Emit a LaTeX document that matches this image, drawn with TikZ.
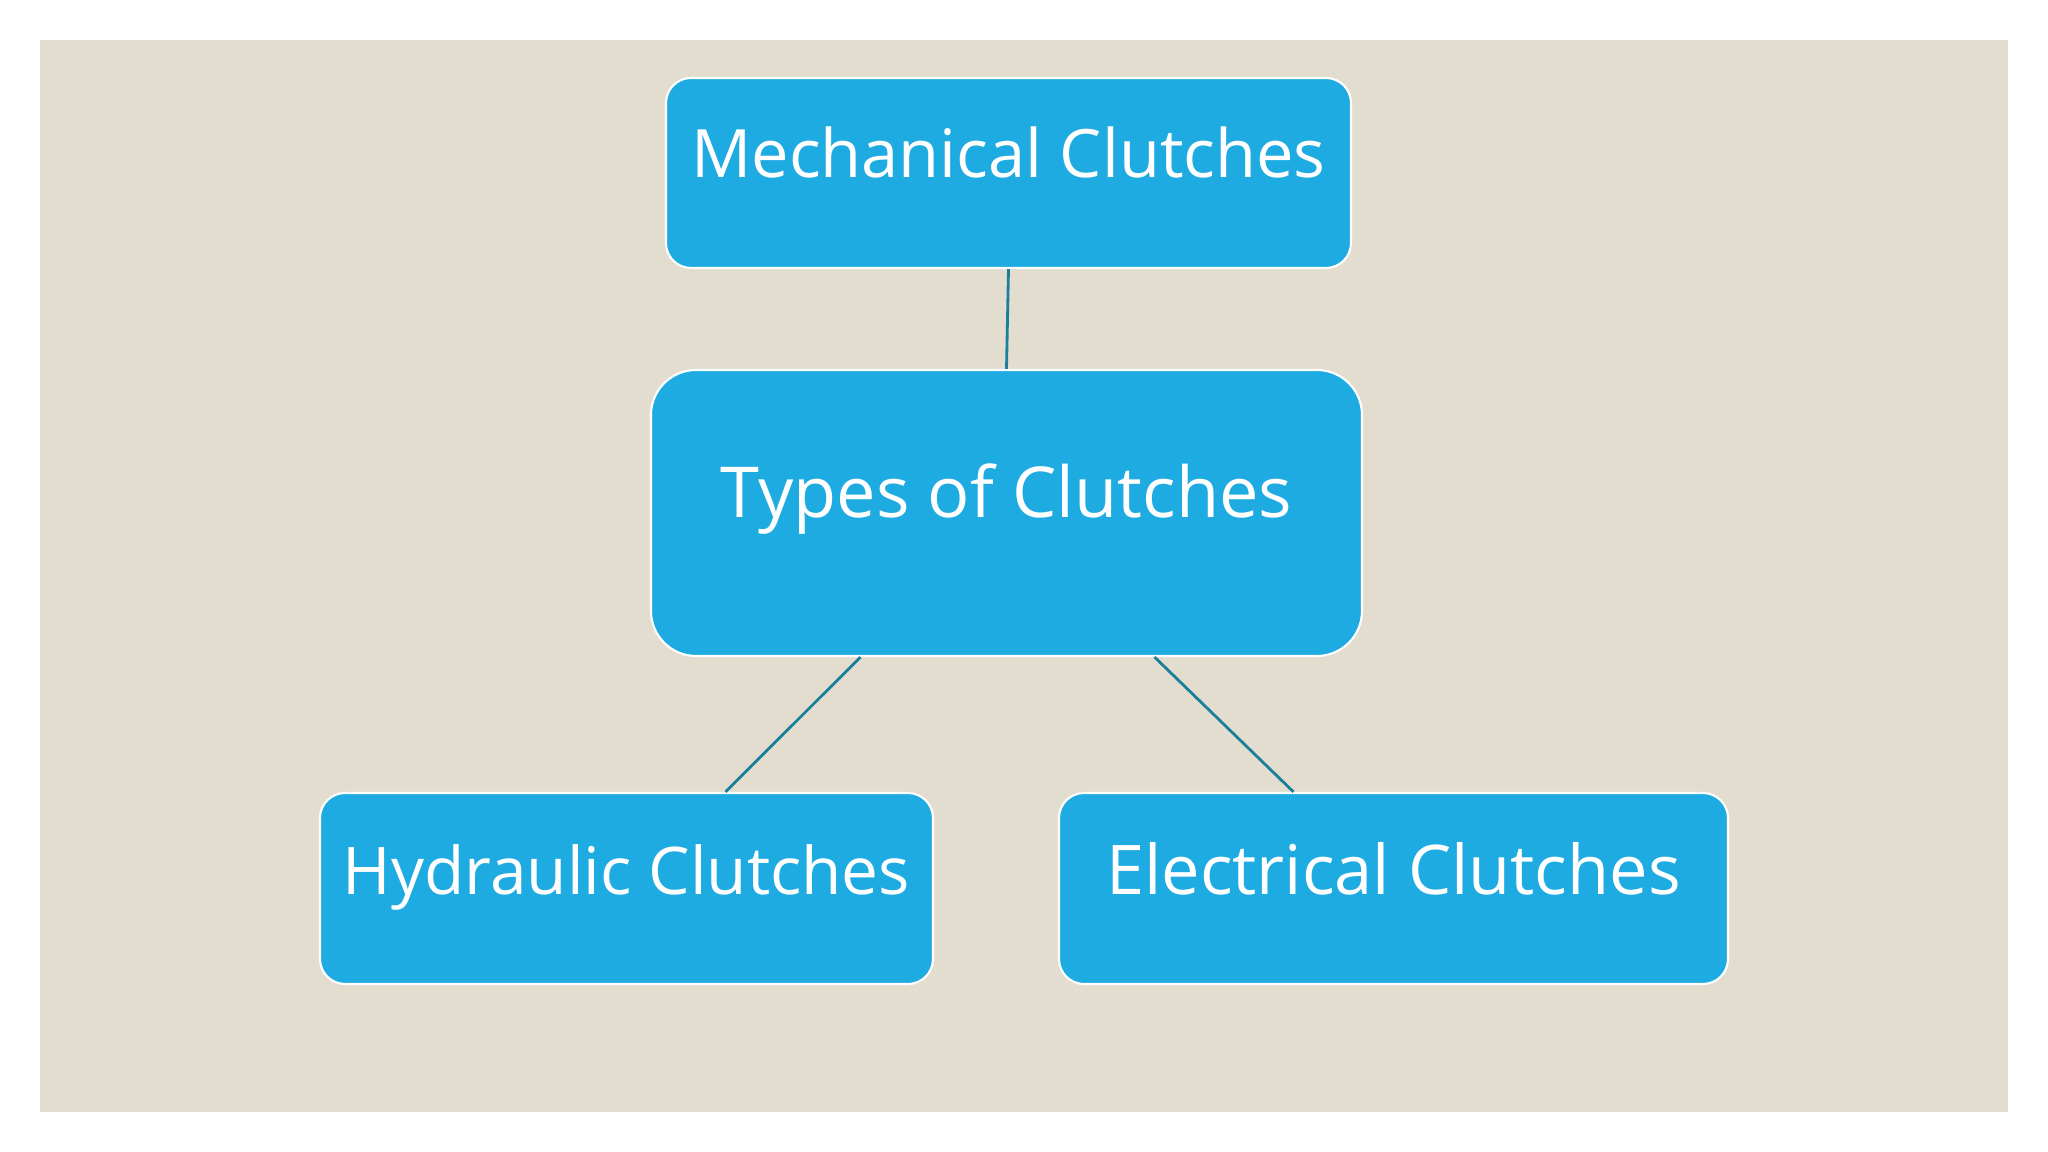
\documentclass[tikz,border=0pt]{standalone}
\usepackage{fontspec}
\setmainfont{Open Sans}
\usetikzlibrary{positioning}
\usetikzlibrary{calc}

\definecolor{slidebg}{HTML}{E3DDD0}
\definecolor{boxblue}{HTML}{1EABE2}
\definecolor{linkteal}{HTML}{1B7F9B}

\begin{document}
\begin{tikzpicture}[
    box/.style={draw=white, line width=0.6pt, fill=boxblue, text=white, inner sep=0pt, font=\fontsize{19}{22}\selectfont},
    link/.style={draw=linkteal, line width=0.8pt}]

      % Page and slide background
      \useasboundingbox (0,0) rectangle (20.48,11.52);
      \fill[white] (0,0) rectangle (20.48,11.52);
      \fill[slidebg] (0.40,0.40) rectangle (20.08,11.12);

      % Top box
      \node[box, rounded corners=0.25cm, minimum width=6.85cm, minimum height=1.90cm,
            text height=1.00cm, text depth=0.90cm] (mech) at (10.085,9.79) {Mechanical Clutches};

      % Centre box
      \node[box, rounded corners=0.45cm, minimum width=7.11cm, minimum height=2.86cm,
            text height=1.48cm, text depth=1.38cm, font=\fontsize{20}{24}\selectfont] (types) at (10.065,6.39) {Types of Clutches};

      % Bottom boxes
      \node[box, rounded corners=0.25cm, minimum width=6.13cm, minimum height=1.91cm,
            text height=1.02cm, text depth=0.89cm, font=\fontsize{18.7}{22}\selectfont] (hyd) at (6.265,2.635) {Hydraulic Clutches};
      \node[box, rounded corners=0.25cm, minimum width=6.69cm, minimum height=1.91cm,
            text height=1.02cm, text depth=0.89cm, font=\fontsize{19.5}{22}\selectfont] (elec) at (13.935,2.635) {Electrical Clutches};

      % Connectors
      \draw[link] (mech.south) -- (types.north);
      \draw[link] ([xshift=-1.46cm]types.south) -- ([xshift=0.99cm]hyd.north);
      \draw[link] ([xshift=1.48cm]types.south) -- ([xshift=-1.00cm]elec.north);

\end{tikzpicture}
\end{document}
